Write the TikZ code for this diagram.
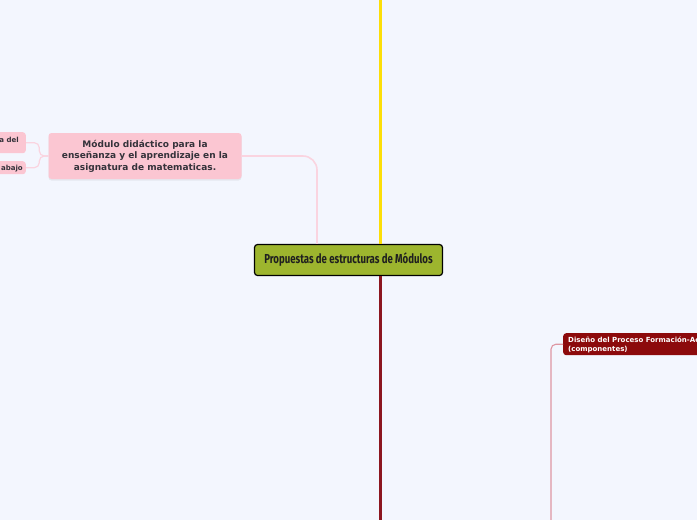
\documentclass[tikz,border=0pt]{standalone}
\usepackage{fontspec}
\setmainfont{DejaVu Sans}
\newfontfamily\rootfont[FakeStretch=0.74]{Fira Sans}
\usetikzlibrary{positioning,shadows}

\definecolor{bg}{RGB}{243,246,254}
\definecolor{olive}{RGB}{157,181,46}
\definecolor{pinkfill}{RGB}{251,198,210}
\definecolor{pinkline}{RGB}{250,212,224}
\definecolor{darkred}{RGB}{140,10,12}
\definecolor{redtrunk}{RGB}{140,22,32}
\definecolor{redthin}{RGB}{222,150,162}
\definecolor{gold}{RGB}{252,222,8}
\definecolor{inkgrey}{RGB}{52,50,58}

\tikzset{
    rootbox/.style = {draw = black, line width = 1.2pt, fill = olive, rounded corners = 3pt,
        minimum width = 188pt, minimum height = 31pt, inner sep = 0pt,
        font = \rootfont\bfseries\fontsize{13}{15}\selectfont, text = black!88},
    pinkbox/.style = {fill = pinkfill, rounded corners = 3pt, minimum width = 193pt,
        minimum height = 46pt, inner sep = 0pt, align = center, text = inkgrey,
        font = \bfseries\fontsize{9}{11.6}\selectfont,
        drop shadow = {shadow xshift = 0pt, shadow yshift = -1.5pt, opacity = 0.12}},
    leafbox/.style = {fill = pinkfill, rounded corners = 3pt, inner sep = 0pt},
    leaftext/.style = {font = \bfseries\fontsize{7}{9}\selectfont, text = inkgrey, inner sep = 0pt},
    redbox/.style = {fill = darkred, rounded corners = 3pt, inner sep = 0pt, text = white,
        minimum width = 160pt, minimum height = 22pt},
    redtext/.style = {font = \bfseries\fontsize{7}{9}\selectfont, text = white, inner sep = 0pt,
        align = left},
    branch/.style = {line width = 1.6pt, draw = pinkline},
}

\begin{document}
\begin{tikzpicture}[x = 1pt, y = -1pt]
    \useasboundingbox[fill = bg] (0,0) rectangle (697,520);

    % trunk lines
    \coordinate (top) at (380.6,0);
    \coordinate (bottom) at (380.6,520);
    \coordinate (redend) at (551,520);

    \node[rootbox] (root) at (348.5,260) {Propuestas de estructuras de Módulos};

    \draw[gold, line width = 2.4pt] (root.north -| top) -- (top);
    \draw[redtrunk, line width = 2.6pt] (root.south -| bottom) -- (bottom);

    \node[pinkbox] (modulo) at (145,156) {Módulo didáctico para la\\enseñanza y el aprendizaje en la\\asignatura de matematicas.};
    \draw[branch, rounded corners = 14pt] (modulo.east) -| ([xshift = -31.5pt]root.north);

    % cut off leaves on the left
    \node[leafbox, minimum width = 60pt, minimum height = 21pt, anchor = north east] (leafA) at (26,132) {};
    \node[leaftext, anchor = base east] (leafAtext) at (19,142) {a del};
    \node[leafbox, minimum width = 60pt, minimum height = 13pt, anchor = north east] (leafB) at (26,161) {};
    \node[leaftext, anchor = base east] (leafBtext) at (23,170.5) {abajo};
    \draw[pinkline, line width = 1.2pt, rounded corners = 5pt] (modulo.west) -- ++(-9,0) |- (leafA.east);
    \draw[pinkline, line width = 1.2pt, rounded corners = 5pt] (modulo.west) -- ++(-9,0) |- (leafB.east);

    \node[redbox, anchor = north west] (diseno) at (563,333) {};
    \node[redtext, anchor = north west] (disenotext) at (568,336.5) {Diseño del Proceso Formación-Acción\\(componentes)};
    \draw[redthin, line width = 1.1pt, rounded corners = 5pt] (diseno.west) -| (redend);
\end{tikzpicture}
\end{document}
